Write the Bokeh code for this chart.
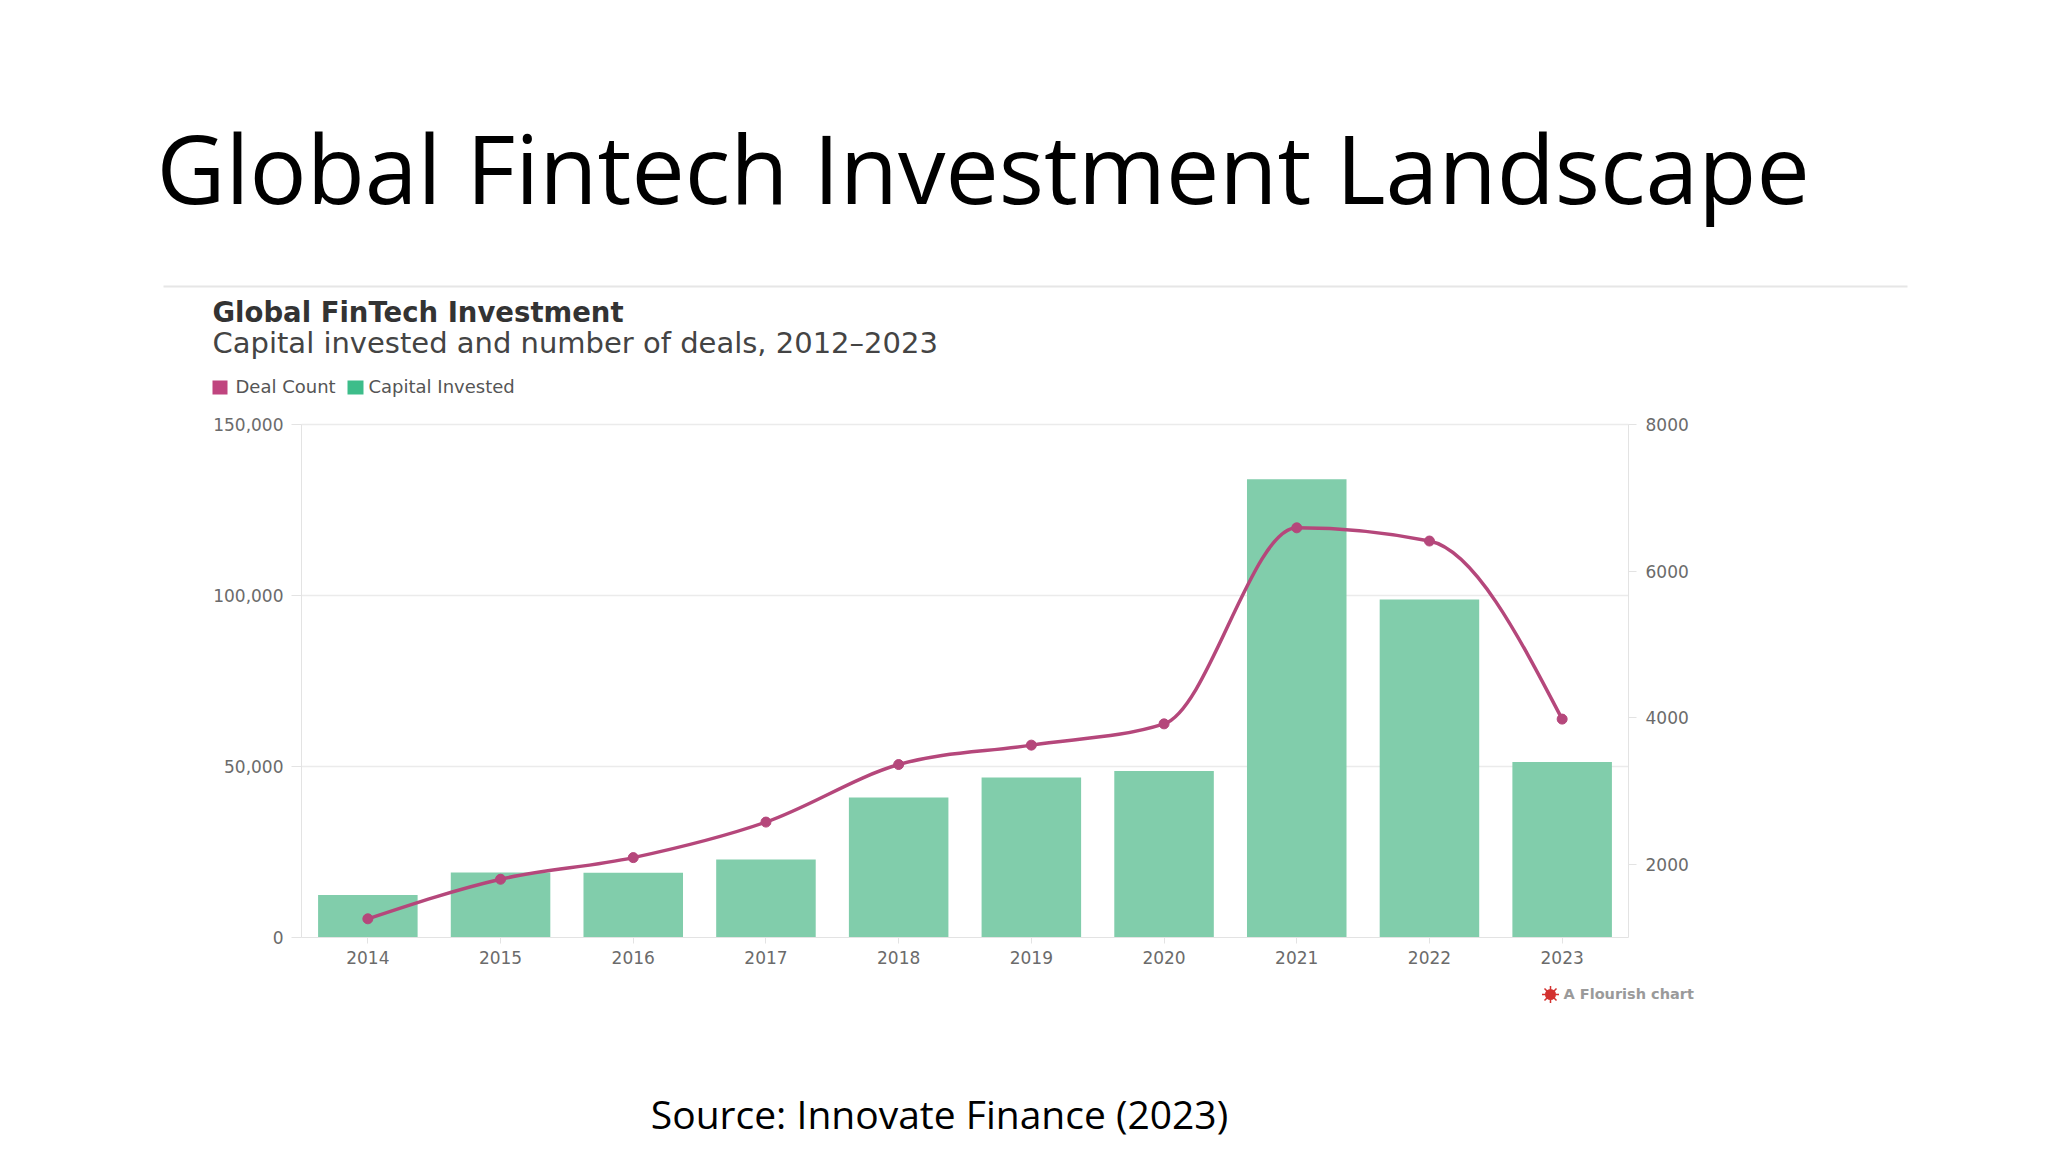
from bokeh.plotting import figure
from bokeh.models import (Range1d, LinearAxis, FixedTicker, NumeralTickFormatter,
                          ColumnDataSource)
from bokeh.core.properties import value
from bokeh.embed import file_html
from bokeh.resources import INLINE

# ---- data ----
years = ["2014", "2015", "2016", "2017", "2018", "2019", "2020", "2021", "2022", "2023"]
capital_invested = [12400, 19000, 18900, 22800, 40900, 46800, 48700, 134000, 98800, 51300]
deal_count = [1255, 1795, 2090, 2575, 3360, 3625, 3915, 6590, 6410, 3980]
left_ticks = [0, 50000, 100000, 150000]
right_ticks = [2000, 4000, 6000, 8000]
deal_axis = [1000, 8000]
legend_names = ["Deal Count", "Capital Invested"]

BAR_COLOR = "#81cdab"
LINE_COLOR = "#b5477b"
LEGEND_COLORS = ["#c0457f", "#3dbd8a"]
AX_GREY = "#e3e3e3"
TICK_FONT = "DejaVu Sans"
TICK_COLOR = "#6b6b6b"

# canvas size and where the chart area sits on it (px, y down)
W, H = 2040, 1146
CH_L, CH_R, CH_T, CH_B = 301, 1628, 424, 937

xpos = list(range(len(years)))

# the frame is the whole canvas, so stretch the ranges to put the chart area in place
xpp = len(years) / (CH_R - CH_L)
ypp = (left_ticks[-1] - left_ticks[0]) / (CH_B - CH_T)
dpp = (deal_axis[1] - deal_axis[0]) / (CH_B - CH_T)
x_range = Range1d(-0.5 - CH_L * xpp, -0.5 + (W - CH_L) * xpp)
y_range = Range1d(left_ticks[0] - (H - CH_B) * ypp, left_ticks[-1] + CH_T * ypp)
deal_range = Range1d(deal_axis[0] - (H - CH_B) * dpp, deal_axis[1] + CH_T * dpp)


def monotone_tangents(xs, ys):
    # same slopes as d3.curveMonotoneX
    n = len(xs)
    t = [0.0] * n
    sgn = lambda v: -1 if v < 0 else 1
    for i in range(1, n - 1):
        h0, h1 = xs[i] - xs[i - 1], xs[i + 1] - xs[i]
        s0, s1 = (ys[i] - ys[i - 1]) / h0, (ys[i + 1] - ys[i]) / h1
        pp = (s0 * h1 + s1 * h0) / (h0 + h1)
        t[i] = (sgn(s0) + sgn(s1)) * min(abs(s0), abs(s1), 0.5 * abs(pp))
    t[0] = (3 * (ys[1] - ys[0]) / (xs[1] - xs[0]) - t[1]) / 2
    t[-1] = (3 * (ys[-1] - ys[-2]) / (xs[-1] - xs[-2]) - t[-2]) / 2
    return t


tan = monotone_tangents(xpos, deal_count)
seg = dict(x0=[], y0=[], x1=[], y1=[], cx0=[], cy0=[], cx1=[], cy1=[])
for i in range(len(xpos) - 1):
    dx = (xpos[i + 1] - xpos[i]) / 3
    seg["x0"].append(xpos[i]); seg["y0"].append(deal_count[i])
    seg["x1"].append(xpos[i + 1]); seg["y1"].append(deal_count[i + 1])
    seg["cx0"].append(xpos[i] + dx); seg["cy0"].append(deal_count[i] + dx * tan[i])
    seg["cx1"].append(xpos[i + 1] - dx); seg["cy1"].append(deal_count[i + 1] - dx * tan[i + 1])

p = figure(
    width=W, height=H, title=None,
    output_backend="svg", toolbar_location=None,
    x_range=x_range, y_range=y_range,
    min_border=0, min_border_left=0, min_border_right=0,
    min_border_top=0, min_border_bottom=0,
)
p.extra_y_ranges = {"deals": deal_range, "py": Range1d(H, 0)}
p.extra_x_ranges = {"px": Range1d(0, W)}
p.outline_line_color = None
p.grid.visible = False

# horizontal grid lines at the left-axis ticks
grid_vals = left_ticks[1:]
p.segment(x0=[-0.5] * len(grid_vals), x1=[len(years) - 0.5] * len(grid_vals),
          y0=grid_vals, y1=grid_vals, line_color="#ebebeb", line_width=1.5)

p.vbar(x=xpos, top=capital_invested, width=0.75, fill_color=BAR_COLOR, line_color=None)
p.bezier(x0="x0", y0="y0", x1="x1", y1="y1", cx0="cx0", cy0="cy0", cx1="cx1", cy1="cy1",
         source=ColumnDataSource(seg), y_range_name="deals",
         line_color=LINE_COLOR, line_width=3.5)
p.scatter(xpos, deal_count, y_range_name="deals", size=10,
          fill_color=LINE_COLOR, line_color=LINE_COLOR)


def style_axis(ax, tick_out, standoff):
    ax.axis_line_color = AX_GREY
    ax.major_tick_line_color = AX_GREY
    ax.major_tick_out = tick_out
    ax.major_tick_in = 0
    ax.minor_tick_line_color = None
    ax.major_label_standoff = standoff
    ax.major_label_text_font = TICK_FONT
    ax.major_label_text_font_size = "17px"
    ax.major_label_text_color = TICK_COLOR


ya = p.yaxis[0]
ya.ticker = FixedTicker(ticks=left_ticks)
ya.formatter = NumeralTickFormatter(format="0,0")
ya.fixed_location = -0.5
ya.bounds = (left_ticks[0], left_ticks[-1])
style_axis(ya, 10, 8)

ra = LinearAxis(y_range_name="deals", ticker=FixedTicker(ticks=right_ticks),
                fixed_location=len(years) - 0.5, bounds=tuple(deal_axis))
style_axis(ra, 8, 9)
p.add_layout(ra, "right")

xa = p.xaxis[0]
xa.ticker = FixedTicker(ticks=xpos)
xa.major_label_overrides = {i: y for i, y in zip(xpos, years)}
xa.fixed_location = left_ticks[0]
xa.bounds = (-0.5, len(years) - 0.5)
style_axis(xa, 6, 7)

# half of (ascent - descent) per em, to turn a baseline into the anchor the glyph uses
MID = {"Open Sans": 0.388, "DejaVu Sans": 0.346}


# ---- texts and marks around the chart, in page px (baseline y) ----
def txt(text, x, y, size, font="Open Sans", color="#000000", style="normal", align="left"):
    p.text(x=[x], y=[y - MID[font] * size], text=[text], x_range_name="px", y_range_name="py",
           text_font=value(font), text_font_size=value(f"{size}px"), text_color=color,
           text_font_style=style, text_align=align, text_baseline="alphabetic")


txt("Global Fintech Investment Landscape", 156, 203, 95)
p.segment(x0=[163], y0=[286], x1=[1907], y1=[286], x_range_name="px", y_range_name="py",
          line_color="#e6e6e6", line_width=2)
txt("Global FinTech Investment", 212, 321, 27.5, font="DejaVu Sans", color="#333333", style="bold")
txt("Capital invested and number of deals, 2012–2023", 212, 353, 29, font="DejaVu Sans",
    color="#444444")

p.rect(x=[219.5, 355], y=[387, 387], width=[15, 16], height=14, x_range_name="px",
       y_range_name="py", fill_color=LEGEND_COLORS, line_color=None)
for name, tx in zip(legend_names, [235, 368]):
    txt(name, tx, 392, 18, font="DejaVu Sans", color="#555555")

p.scatter(x=[1550], y=[994], x_range_name="px", y_range_name="py", marker="circle",
          size=11, fill_color="#d3312f", line_color=None)
p.scatter(x=[1550], y=[994], x_range_name="px", y_range_name="py", marker="asterisk",
          size=17, line_color="#d3312f", line_width=1.5)
txt("A Flourish chart", 1563, 999, 14.5, font="DejaVu Sans", color="#9a9a9a", style="bold")

txt("Source: Innovate Finance (2023)", 939, 1128, 39, align="center")

open("out.html", "w").write(file_html(p, INLINE))
